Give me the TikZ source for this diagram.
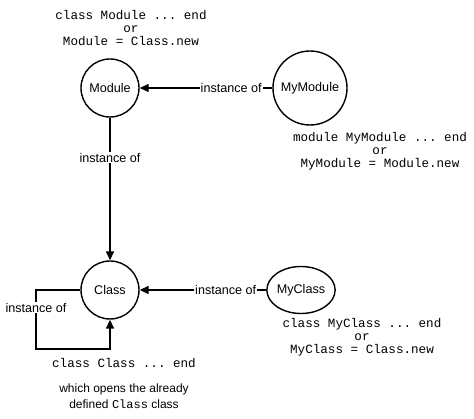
\documentclass[tikz,border=0pt]{standalone}
\usepackage{fontspec}
\setmainfont{Liberation Sans}
\setmonofont{Liberation Mono}
\usetikzlibrary{arrows.meta,shapes.geometric}
\begin{document}
\begin{tikzpicture}[x=1pt,y=-1pt,
  every node/.style={font=\fontsize{12.6}{14}\selectfont},
  circ/.style={draw,circle,line width=1.4pt,inner sep=0pt},
  oval/.style={draw,ellipse,line width=1.4pt,inner sep=0pt},
  arr/.style={line width=1.4pt,-{Triangle[length=9pt,width=8pt]}},
  lbl/.style={fill=white,inner sep=1pt},
  code/.style={align=center,font=\fontsize{12.6}{13}\selectfont\ttfamily},
  note/.style={align=center,font=\fontsize{12}{16}\selectfont}]
\useasboundingbox (0,0) rectangle (474,419);
\node[circ,minimum size=58pt] (module) at (110,88) {Module};
\node[circ,minimum size=74pt] (mymodule) at (310,88) {MyModule};
\node[circ,minimum size=58pt] (class) at (110,290) {Class};
\node[oval,minimum width=57pt,minimum height=47pt] (myclass) at (301,290) {MyClass};

\node[code] (t1) at (131,28) {class Module ... end\\or\\Module = Class.new};
\node[code] (t2) at (380,151) {module MyModule ... end\\or\\MyModule = Module.new};
\node[code] (t3) at (362,337) {class MyClass ... end\\or\\MyClass = Class.new};
\node[code] (t4) at (124,363) {class Class ... end};
\node[note] (t5) at (124,396) {which opens the already\\defined {\ttfamily Class} class};

\draw[arr] (mymodule) -- node[lbl,pos=0.31]{instance of} (module);
\draw[arr] (myclass) -- node[lbl,pos=0.32]{instance of} (class);
\draw[arr] (module) -- node[lbl,pos=0.28]{instance of} (class);

\coordinate (l1) at (36,290);
\coordinate (l2) at (36,349);
\coordinate (l3) at (110,349);
\draw[arr] (class.west) -- (l1) -- node[lbl,pos=0.3]{instance of} (l2) -- (l3) -- (class.south);
\end{tikzpicture}
\end{document}
